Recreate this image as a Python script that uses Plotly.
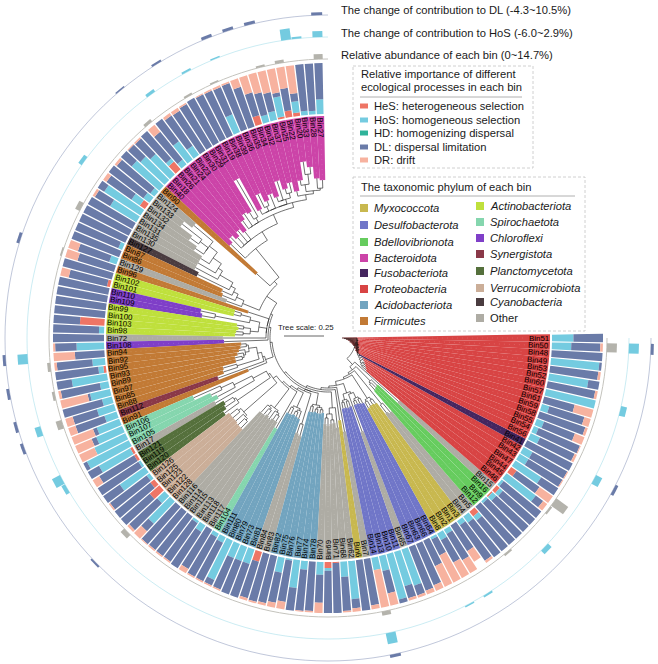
import plotly.graph_objects as go
import math

W, H = 658, 664
CX, CY, RMAX = 328, 338, 326

bins = [27,28,33,20,22,25,37,32,34,35,36,39,38,19,31,29,30,23,24,21,26,18,40,
        90,124,133,132,134,131,135,130,127,87,86,129,96,102,101,110,109,99,100,103,98,72,108,
        94,92,95,93,89,97,85,88,112,91,106,107,105,17,121,119,120,126,125,123,122,128,
        116,114,115,113,118,117,104,111,80,79,73,81,84,83,82,75,76,77,74,78,
        70,69,71,68,62,6,7,14,13,10,11,65,67,63,66,64,8,2,1,3,4,5,12,9,16,15,
        46,45,44,47,43,42,41,56,54,55,58,59,61,57,60,52,53,49,48,50,51]

phylum_names = ["Myxococcota","Desulfobacterota","Bdellovibrionota","Bacteroidota","Fusobacteriota","Proteobacteria",
                "Acidobacteriota","Firmicutes","Actinobacteriota","Spirochaetota","Chloroflexi","Synergistota",
                "Planctomycetota","Verrucomicrobiota","Cyanobacteria","Other"]
phylum_colors = ["#c8b84f","#7076c8","#66cc5e","#cc44a8","#45265f","#d84444","#72a4bf","#c27a35",
                 "#bfe03c","#85d6ae","#7f3fc8","#8a3848","#55703c","#cbae98","#4a3c40","#aeaca4"]
phylum_runs = [("Bacteroidota",23),("Firmicutes",1),("Other",7),("Cyanobacteria",1),("Firmicutes",2),("Other",1),
               ("Firmicutes",1),("Actinobacteriota",2),("Chloroflexi",2),("Actinobacteriota",4),("Other",1),("Chloroflexi",1),
               ("Firmicutes",8),("Synergistota",1),("Firmicutes",1),("Spirochaetota",3),("Other",1),("Planctomycetota",3),
               ("Verrucomicrobiota",5),("Other",6),("Spirochaetota",1),("Acidobacteriota",5),("Other",2),("Acidobacteriota",6),
               ("Other",5),("Myxococcota",1),("Other",1),("Desulfobacterota",4),("Other",1),("Desulfobacterota",4),
               ("Myxococcota",4),("Other",2),("Bdellovibrionota",3),("Other",1),("Proteobacteria",6),("Fusobacteriota",1),
               ("Proteobacteria",14)]

hes = [0,0,0,7,13,4,0,0,18,0,0,0,0,0,0,0,0,0,0,0,20,0,0,
       0,0,0,12,0,0,0,0,0,0,0,0,0,0,6,0,0,0,0,48,0,0,0,
       0,0,5,0,0,0,0,0,0,0,0,0,0,5,5,0,0,0,10,25,0,0,
       0,0,0,0,0,0,0,0,0,0,0,0,20,0,0,0,0,0,0,0,
       0,12,2,0,0,0,0,0,0,0,0,0,0,0,0,0,0,0,0,0,0,12,0,0,3,8,
       0,0,13,0,0,0,0,0,0,0,0,0,0,0,0,0,0,0,0,0,0]
hos = [29,7,8,22,0,40,18,15,0,0,0,38,0,0,0,0,0,22,45,12,8,55,65,
       72,10,15,20,85,60,0,0,0,8,0,15,0,0,0,0,0,0,0,0,10,0,54,
       0,25,10,70,17,40,20,35,25,47,55,67,92,70,0,5,60,7,0,0,20,60,
       0,0,0,5,15,0,8,12,85,30,30,30,0,0,0,30,3,55,17,0,
       25,5,0,30,75,0,0,25,30,92,70,75,0,0,0,5,15,10,0,10,15,10,0,5,10,8,
       5,72,0,60,20,20,0,20,10,15,0,15,0,100,0,78,0,95,0,38,42]
dl  = [71,93,92,16,45,8,38,45,47,82,97,58,97,98,100,97,93,72,55,70,72,42,33,
       28,85,85,60,15,35,100,100,100,92,100,65,75,100,77,100,100,100,100,52,90,100,42,
       58,70,85,30,78,5,80,50,60,8,10,0,8,25,80,95,40,90,90,75,75,20,
       98,97,97,92,85,90,89,85,12,67,70,70,75,97,95,60,82,45,81,97,
       55,83,98,67,18,100,92,0,45,8,25,20,92,88,55,35,50,60,60,85,85,78,100,95,87,84,
       95,18,55,40,78,78,100,75,88,65,95,72,62,0,95,22,95,5,100,57,58]
dr  = [0,0,0,55,42,48,44,40,35,18,3,4,3,2,0,3,7,6,0,18,0,3,2,
       0,5,0,8,0,5,0,0,0,0,0,20,25,0,17,0,0,0,0,0,0,0,4,
       42,5,0,0,5,55,0,15,15,45,35,33,0,0,15,0,0,3,0,0,5,20,
       2,3,3,3,0,10,3,3,3,3,0,0,5,3,5,10,15,0,2,3,
       20,0,0,3,7,0,8,75,25,0,5,5,8,12,45,60,35,30,25,5,0,0,0,0,0,0,
       0,10,32,0,2,2,0,5,2,20,5,13,38,0,5,0,5,0,0,5,0]

tip_r = [158,160,172,178,160,150,160,155,165,150,155,150,160,145,183,148,150,145,135,140,135,140,135,
         96,175,185,170,160,150,150,150,145,116,114,108,84,97,97,130,128,92,90,92,93,105,104,
         87,88,90,92,95,95,109,110,117,86,147,130,125,130,122,124,128,124,124,124,125,125,
         100,100,98,100,98,98,104,85,85,84,85,86,100,102,76,76,75,76,76,75,
         86,88,86,85,90,83,95,72,72,73,72,100,72,72,73,74,81,80,80,81,95,97,70,69,68,95,
         50,48,46,44,42,40,35,32,30,30,28,28,26,25,24,22,22,20,18,16,14]
merge_r = [150,148,165,155,145,140,150,145,145,140,140,145,140,135,140,135,135,125,125,125,125,115,78,
           74,150,160,150,140,130,125,110,105,100,92,62,62,90,80,115,70,85,78,85,62,60,58,
           82,80,84,86,88,72,95,68,66,56,118,105,85,70,112,110,68,115,112,114,116,64,
           90,92,88,90,92,62,60,78,76,80,78,58,90,56,70,68,72,70,72,54,
           80,76,82,70,52,50,48,66,64,66,58,60,68,66,68,44,74,72,75,42,85,40,62,60,36,28,
           44,42,43,40,38,36,34,33,32,33,31,32,30,31,30,30,29,30,29,29]

abundance = {27:5,22:3,37:2,31:2,21:3,39:1.5,130:5,96:1.5,92:3,89:2.5,88:6,122:5,14:4,5:2,44:14.7,50:10,45:2}
hos_change = {27:6,20:11,33:2,36:1.5,19:2,23:3,132:4,94:10,88:6,105:9,17:4,14:11,41:7,57:6,50:10,2:2,64:1.5,16:5}
dl_change = {27:6,37:7,34:4,36:4,29:2,21:1.5,96:11,94:8,93:5,85:12,112:4,14:6,41:14,50:11,122:2}

leg_top = ["The change of contribution to DL (-4.3~10.5%)",
           "The change of contribution to HoS (-6.0~2.9%)",
           "Relative abundance of each bin (0~14.7%)"]
proc_names = ["HeS: heterogeneous selection","HoS: homogeneous selection","HD: homogenizing dispersal",
              "DL: dispersal limitation","DR: drift"]
proc_colors = ["#ee7565","#74cbe0","#2fb39a","#6a7ba8","#f7b29f"]

N = len(bins)
assert all(len(a) == N for a in (hes, hos, dl, dr, tip_r)) and len(merge_r) == N - 1
STEP = 2.0
theta = [92 + STEP * i for i in range(N)]
R_LABEL, R_BAR0, R_BAR1 = 222, 224, 275
R_AB, R_HOS, R_DL = 279, 301, 323

col_of = dict(zip(phylum_names, phylum_colors))
colors = [col_of[n] for n, c in phylum_runs for _ in range(c)]
assert len(colors) == N

fig = go.Figure()
common = dict(theta=theta, showlegend=False, hoverinfo="skip")

fig.add_trace(go.Barpolar(r=[R_LABEL - t for t in tip_r], base=tip_r, width=STEP,
                          marker=dict(color=colors, line=dict(width=0)), **common))
gx, gy = [], []
for t, rt in zip(theta, tip_r):
    gx += [t, t, None]; gy += [rt, R_LABEL - 24, None]
fig.add_trace(go.Scatterpolar(theta=gx, r=gy, mode="lines", showlegend=False, hoverinfo="skip",
                              line=dict(color="rgba(255,255,255,0.3)", width=0.5, dash="1px 4px")))

tx, ty = [], []
def build(lo, hi):
    if lo == hi:
        return theta[lo], tip_r[lo]
    k = min(range(lo, hi), key=lambda j: merge_r[j])
    rn = merge_r[k]
    t1, r1 = build(lo, k)
    t2, r2 = build(k + 1, hi)
    n = max(2, int(abs(t2 - t1) / 2) + 2)
    tx.extend([t1 + (t2 - t1) * j / (n - 1) for j in range(n)] + [None])
    ty.extend([rn] * n + [None])
    tx.extend([t1, t1, None, t2, t2, None])
    ty.extend([rn, r1, None, rn, r2, None])
    return (t1 + t2) / 2, rn
build(0, N - 1)
fig.add_trace(go.Scatterpolar(theta=tx, r=ty, mode="lines", showlegend=False, hoverinfo="skip",
                              line=dict(color="#111111", width=0.6)))

scale = (R_BAR1 - R_BAR0) / 100
cum = [R_BAR0] * N
for vals, col in zip((hes, hos, dl, dr), (proc_colors[0], proc_colors[1], proc_colors[3], proc_colors[4])):
    fig.add_trace(go.Barpolar(r=[v * scale for v in vals], base=list(cum), width=1.72,
                              marker=dict(color=col, line=dict(width=0)), **common))
    cum = [c + v * scale for c, v in zip(cum, vals)]

def ring(base, values, color, thin_color, thin, width):
    fig.add_trace(go.Scatterpolar(theta=[90] + theta, r=[base] * (N + 1), mode="lines",
                                  showlegend=False, hoverinfo="skip", line=dict(color=thin_color, width=thin)))
    th, rr = [], []
    for b, v in values.items():
        t = theta[bins.index(b)]
        th += [t, t, None]; rr += [base, base + v, None]
    fig.add_trace(go.Scatterpolar(theta=th, r=rr, mode="lines", showlegend=False, hoverinfo="skip",
                                  cliponaxis=False, line=dict(color=color, width=width)))
ring(R_AB, abundance, "#b4b3ac", "#c4c3bd", 1.0, 9)
ring(R_HOS, hos_change, "#74cbe0", "rgba(116,203,224,0.75)", 0.5, 10)
ring(R_DL, dl_change, "#6a7ba8", "rgba(106,123,168,0.85)", 0.5, 11)

def px(x): return x / W
def py(y): return 1 - y / H
ann = []
def label(x, y, text, size=11.2, color="#1a1a1a"):
    ann.append(dict(x=px(x), y=py(y), xref="paper", yref="paper", text=text, showarrow=False, xanchor="left",
                    yanchor="middle", font=dict(size=size, color=color, family="Liberation Sans, Arial"), borderpad=0))

for b, t in zip(bins, theta):
    w = 19.8 if 10 <= b < 100 else (24.0 if b >= 100 else 15.5)
    r = R_LABEL - 1 - w / 2
    a = math.radians(t)
    x, y = CX + r * math.cos(a), CY - r * math.sin(a)
    tt = t % 360
    angle = 180 - tt if 90 <= tt <= 270 else -tt
    ann.append(dict(x=px(x), y=py(y), xref="paper", yref="paper", text=f"Bin{b}", showarrow=False,
                    xanchor="center", yanchor="middle", textangle=angle, borderpad=0,
                    font=dict(size=7.9, color="#000000", family="Liberation Sans, Arial")))

for y, s in zip((10, 33, 55), leg_top):
    label(340, y, s)

shapes = []
def rect(x0, y0, x1, y1, **kw):
    shapes.append(dict(type="rect", xref="paper", yref="paper", x0=px(x0), x1=px(x1), y0=py(y0), y1=py(y1), **kw))
def line(x0, y0, x1, y1, color="#b0b0b0", width=1, dash="solid"):
    shapes.append(dict(type="line", xref="paper", yref="paper", x0=px(x0), x1=px(x1), y0=py(y0), y1=py(y1),
                       line=dict(color=color, width=width, dash=dash)))

box = dict(line=dict(color="#c4c4c4", width=0.8, dash="3px 2px"), fillcolor="rgba(0,0,0,0)")
rect(353, 66, 533, 168, **box)
rect(353, 177, 585, 331, **box)
line(360, 97, 522, 97)
line(360, 196, 575, 196)
label(360, 74.5, "Relative importance of different")
label(360, 87.5, "ecological processes in each bin")
for y, s, c in zip((106, 120, 133, 147, 160), proc_names, proc_colors):
    rect(360, y - 2.5, 368, y + 2.5, fillcolor=c, line=dict(width=0))
    label(373, y, s)
label(360, 186.5, "The taxonomic phylum of each bin")
ys = (208, 225, 242, 258, 273, 289, 305, 321, 206, 222, 238, 254, 271, 288, 302, 318)
for i, (name, c, y) in enumerate(zip(phylum_names, phylum_colors, ys)):
    x = 360 if i < 8 else 476
    rect(x, y - 4, x + 8, y + 4, fillcolor=c, line=dict(width=0))
    label(x + 13, y, f"<i>{name}</i>" if name != "Other" else name)

label(277, 328, "Tree scale: 0.25", 7.8)
line(284, 336, 324, 336, "#666666", 1)

fig.update_layout(
    width=W, height=H, autosize=False, margin=dict(l=0, r=0, t=0, b=0),
    paper_bgcolor="white", showlegend=False, annotations=ann, shapes=shapes,
    polar=dict(domain=dict(x=[0, (2 * CX) / W], y=[1 - (CY + RMAX) / H, 1 - (CY - RMAX) / H]),
               bgcolor="rgba(0,0,0,0)", barmode="overlay", bargap=0,
               radialaxis=dict(visible=False, range=[0, RMAX]),
               angularaxis=dict(visible=False, rotation=0, direction="counterclockwise", thetaunit="degrees")),
)
fig.write_html("out.html", config=dict(displayModeBar=False),
               post_script="document.body.style.margin='0';document.documentElement.style.overflow='hidden';")
